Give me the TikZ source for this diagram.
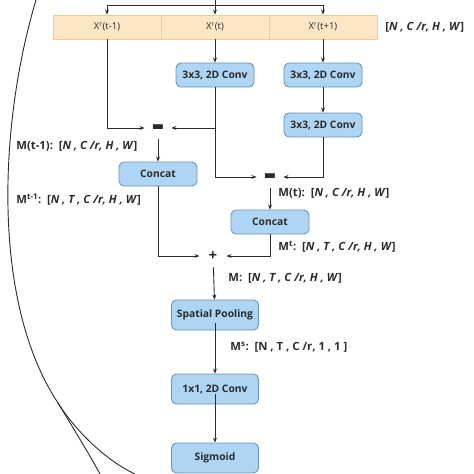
\documentclass[tikz,border=0pt]{standalone}
\usepackage{fontspec}
\setmainfont{Open Sans}
\newfontfamily\symfont{DejaVu Sans}
\usetikzlibrary{positioning, arrows.meta}

\definecolor{ink}{HTML}{2B2B2B}
\definecolor{boxfill}{HTML}{AED5F4}
\definecolor{boxedge}{HTML}{6F93B3}
\definecolor{barfill}{HTML}{FDE6C4}
\definecolor{baredge}{HTML}{F3CB8E}

\begin{document}
\begin{tikzpicture}[
    x=1pt, y=-1pt,
    node distance=48pt,
    on grid,
    color=ink,
    line width=0.9pt,
    >={Stealth[length=5pt, width=4pt]},
    every node/.style={font=\fontsize{9.5}{11}\selectfont},
    block/.style={draw=boxedge, fill=boxfill, rounded corners=5pt, minimum width=78pt, minimum height=24pt, inner sep=0pt, font=\fontsize{10.3}{12}\selectfont\bfseries},
    bigblock/.style={block, minimum width=87pt, minimum height=30pt},
    cell/.style={draw=baredge, fill=barfill, minimum width=108pt, minimum height=24pt, inner sep=0pt},
    op/.style={minimum width=26pt, minimum height=22pt, inner sep=0pt},
    dims/.style={anchor=west, inner sep=0pt, font=\fontsize{11.3}{13}\selectfont\bfseries}
]
   \useasboundingbox (0,0) rectangle (474,474);

   % Input frames
   \node[cell] (xr0) at (215,27) {X\textsuperscript{r}(t)};
   \node[cell] (xr1) [left=108pt of xr0] {X\textsuperscript{r}(t-1)};
   \node[cell] (xr2) [right=108pt of xr0] {X\textsuperscript{r}(t+1)};
   \node[dims] (xdims) at (385,27) {[\textit{N , C /r, H , W}]};

   % Blocks
   \node[block] (conv1) [below=of xr0] {3x3, 2D Conv};
   \node[block] (conv2) [below=of xr2] {3x3, 2D Conv};
   \node[block] (conv3) [below=50pt of conv2] {3x3, 2D Conv};
   \node[op] (minus1) at (158,128) {\symfont\fontsize{13}{14}\selectfont ▬};
   \node[block] (concat1) [below=46pt of minus1] {Concat};
   \node[op] (minus2) at (270,177) {\symfont\fontsize{13}{14}\selectfont ▬};
   \node[block] (concat2) [below=45pt of minus2] {Concat};
   \node[op] (plus) at (213,256) {\fontsize{15}{16}\selectfont\bfseries +};
   \node[bigblock] (pool) at (215,315) {Spatial Pooling};
   \node[bigblock] (conv4) [below=74pt of pool] {1x1, 2D Conv};
   \node[bigblock] (sig) [below=69pt of conv4] {Sigmoid};

   % Shapes
   \node[dims] (m1dims) at (16,146) {M(t-1):\ \ [\textit{N , C /r, H , W}]};
   \node[dims] (mt1dims) at (16,200) {M\textsuperscript{t-1}:\ \ [\textit{N , T , C /r, H , W}]};
   \node[dims] (m0dims) at (278,193) {M(t):\ \ [\textit{N , C /r, H , W}]};
   \node[dims] (mtdims) at (278,247) {M\textsuperscript{t}:\ \ [\textit{N , T , C /r, H , W}]};
   \node[dims] (mdims) at (228,278) {M:\ \ [\textit{N , T , C /r, H , W}]};
   \node[dims] (msdims) at (230,347) {M\textsuperscript{s}:\ \ [N , T , C /r, 1 , 1 ]};

   % Connections
   \coordinate (topin) at (215,0);
   \coordinate (top) at (215,5);
   \coordinate (split1) at (conv1 |- minus1);
   \draw (topin) -- (top);
   \draw[->] (top) -| (xr1);
   \draw[->] (top) -| (xr2);
   \draw[->] (top) -- (xr0);
   \draw[->] (xr0) -- (conv1);
   \draw[->] (xr2) -- (conv2);
   \draw[->] (conv2) -- (conv3);
   \draw[->] (xr1) |- (minus1);
   \draw[->] (conv1) |- (minus1);
   \draw[->] (split1) |- (minus2);
   \draw[->] (conv3) |- (minus2);
   \draw[->] (minus1) -- (concat1);
   \draw[->] (minus2) -- (concat2);
   \draw[->] (concat1) |- (plus);
   \draw[->] (concat2) |- (plus);
   \draw[->] (plus) -- (pool);
   \draw[->] ([yshift=7pt]pool.south) -- (conv4);
   \draw[->] ([yshift=10pt]conv4.south) -- (sig);

   % Skip lines
   \coordinate (skipin) at (36,0);
   \coordinate (skipsplit) at (58,403);
   \coordinate (skipa) at (100,474);
   \coordinate (skipb) at (135,474);
   \draw (skipin) .. controls (0,120) and (-10,300) .. (skipsplit);
   \draw (skipsplit) .. controls (72,426) and (88,452) .. (skipa);
   \draw (skipsplit) .. controls (75,430) and (105,460) .. (skipb);
\end{tikzpicture}
\end{document}
